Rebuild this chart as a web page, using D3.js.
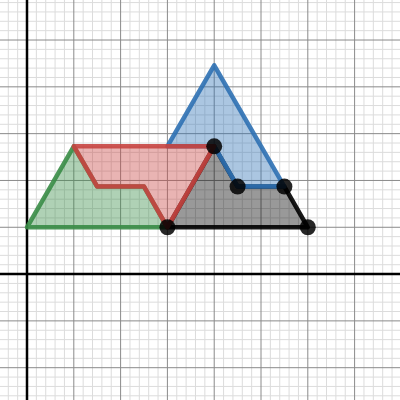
<!DOCTYPE html><html><head><script src="https://d3js.org/d3.v7.min.js"></script>
<style>body{margin:0;background:#fff}</style></head><body><svg width="400" height="400"></svg><script>
const greenPts=[[0,1],[1,2.73],[1.5,1.87],[2.5,1.87],[3,1]];
const blackPts=[[3,1],[4,2.73],[4.5,1.87],[5.5,1.87],[6,1]];
const bluePts=[[3,2.73],[4,4.46],[5.5,1.87],[4.5,1.87],[4,2.73]];
const redPts=[[1,2.73],[1.5,1.87],[2.5,1.87],[3,1],[4,2.73]];
const x=d3.scaleLinear().domain([-0.577,7.97]).range([0,400]);
const y=d3.scaleLinear().domain([-2.69,5.855]).range([400,0]);
const svg=d3.select("svg");
const minor=d3.range(-3,8.01,0.2);
const g=svg.append("g");
function grid(vals,col,w){
 g.selectAll(null).data(vals).enter().append("line").attr("x1",d=>x(d)).attr("x2",d=>x(d)).attr("y1",0).attr("y2",400).attr("stroke",col).attr("stroke-width",w);
 g.selectAll(null).data(vals).enter().append("line").attr("y1",d=>y(d)).attr("y2",d=>y(d)).attr("x1",0).attr("x2",400).attr("stroke",col).attr("stroke-width",w);
}
grid(minor.filter(d=>Math.abs(d-Math.round(d))>0.01),"#dcdcdc",1);
grid(d3.range(-3,9),"#8a8a8a",1);
svg.append("line").attr("x1",x(0)).attr("x2",x(0)).attr("y1",0).attr("y2",400).attr("stroke","#000").attr("stroke-width",2.5);
svg.append("line").attr("y1",y(0)).attr("y2",y(0)).attr("x1",0).attr("x2",400).attr("stroke","#000").attr("stroke-width",2.5);
const line=d3.line().x(d=>x(d[0])).y(d=>y(d[1]));
function poly(pts,col){svg.append("path").attr("d",line(pts)+"Z").attr("fill",col).attr("fill-opacity",0.4).attr("stroke",col).attr("stroke-width",4.5).attr("stroke-linejoin","round").attr("stroke-opacity",0.9);}
poly(greenPts,"#388c46");poly(blackPts,"#000000");poly(bluePts,"#2d70b3");poly(redPts,"#c74440");
svg.selectAll("circle").data(blackPts).enter().append("circle").attr("cx",d=>x(d[0])).attr("cy",d=>y(d[1])).attr("r",8).attr("fill","#000").attr("fill-opacity",0.85);
</script></body></html>
